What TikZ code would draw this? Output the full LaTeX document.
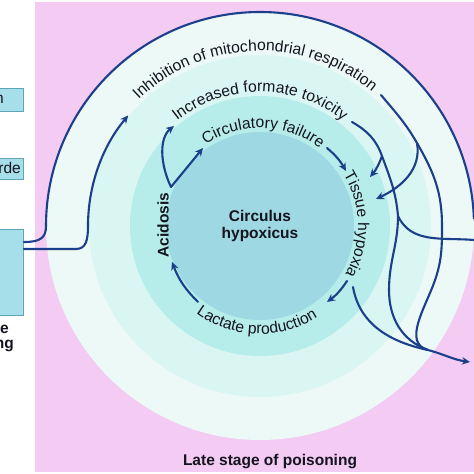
\documentclass[tikz,border=0pt]{standalone}
\usepackage{fontspec}
\setmainfont{Liberation Sans}
\usetikzlibrary{decorations.text,arrows.meta,calc}
\definecolor{pinkbg}{RGB}{243,203,243}
\definecolor{ringA}{RGB}{237,249,246}
\definecolor{ringB}{RGB}{218,246,242}
\definecolor{ringC}{RGB}{182,237,234}
\definecolor{ringD}{RGB}{157,216,227}
\definecolor{boxfill}{RGB}{166,222,234}
\definecolor{boxline}{RGB}{95,165,185}
\definecolor{navy}{RGB}{27,63,139}
\definecolor{ink}{RGB}{20,20,30}
\newcommand\arcfnt{\fontsize{15.7}{18}\selectfont}
\begin{document}
\begin{tikzpicture}[x=1pt,y=1pt,
  conn/.style={draw=navy, line width=2.1pt, line cap=round, line join=round},
  arr/.style={conn, -{Stealth[length=8pt,width=7.5pt]}},
  box/.style={draw=boxline, fill=boxfill, line width=0.8pt, inner sep=0pt, anchor=north east, minimum width=40pt},
  lbl/.style={text=ink, font=\fontsize{15.5}{17}\selectfont, inner sep=0pt},
  blbl/.style={text=ink, font=\fontsize{15.5}{17}\selectfont\bfseries, inner sep=0pt},
]
\useasboundingbox (0,0) rectangle (474,474);
\coordinate (C) at (260,248);
\fill[pinkbg] (35,2) rectangle (474,472);
\begin{scope}
\clip (35,2) rectangle (474,472);
\fill[ringA] (C) circle[radius=214pt];
\fill[ringB] (C) circle[radius=171pt];
\fill[ringC] (C) circle[radius=130pt];
\fill[ringD] (C) circle[radius=94pt];
\end{scope}

% left boxes
\node[box, minimum height=23pt] (b1) at (24,386) {};
\node[box, minimum height=21pt] (b2) at (24,316) {};
\node[box, minimum height=86pt] (b3) at (24,245) {};
\node[lbl, anchor=east] (t1) at (4,375) {n};
\node[lbl, anchor=east] (t2) at (21,306) {rde};
\node[blbl, anchor=base east] (e1) at (9,140) {e};
\node[blbl, anchor=base east] (e2) at (14,125) {ng};

% arc texts
\path[decorate, decoration={text along path, text align=center,
  text={|\color{ink}\arcfnt|Inhibition of mitochondrial respiration}}]
  (C) ++(152:175pt) arc[start angle=152, end angle=32, radius=175pt];
\path[decorate, decoration={text along path, text align=center,
  text={|\color{ink}\arcfnt|Increased formate toxicity}}]
  (C) ++(150:134pt) arc[start angle=150, end angle=30, radius=134pt];
\path[decorate, decoration={text along path, text align=center,
  text={|\color{ink}\arcfnt|Circulatory failure}}]
  (C) ++(148:98pt) arc[start angle=148, end angle=28, radius=98pt];
\path[decorate, decoration={text along path, text align=center,
  text={|\color{ink}\arcfnt|Tissue hypoxia}}]
  (C) ++(61:98pt) arc[start angle=61, end angle=-59, radius=98pt];
\path[decorate, decoration={text along path, text align=center,
  text={|\color{ink}\arcfnt|Lactate production}}]
  (C) ++(208:108pt) arc[start angle=208, end angle=328, radius=108pt];

\node[blbl, rotate=90] (acid) at (163,249) {Acidosis};
\node[blbl, align=center] (circ) at (260,248) {Circulus\\hypoxicus};
\node[blbl, anchor=base] (late) at (270,9) {Late stage of poisoning};

% left connectors
\coordinate (o1) at ($(b3.north east)+(0,-13)$);
\coordinate (o2) at ($(b3.north east)+(0,-20)$);
\draw[conn] (o1) .. controls (40,232) and (46,236) .. (46,248)
  arc[start angle=180, end angle=2, radius=214pt];
\draw[arr] (o2) -- (76,225) .. controls (86,225) and (88,234) .. (88,248)
  arc[start angle=180, end angle=140, radius=172pt];

% inner cycle
\coordinate (c1s) at (327,326); \coordinate (c1e) at (346,303);
\coordinate (c2s) at (347,193); \coordinate (c2e) at (327,172);
\coordinate (c3s) at (198,172); \coordinate (c3e) at (172,212);
\coordinate (vB) at (171,287); \coordinate (vC) at (203,326); \coordinate (vI) at (174,348);
\draw[arr] (c1s) to[bend left=10] (c1e);
\draw[arr] (c2s) to[bend left=10] (c2e);
\draw[arr] (c3s) to[bend left=12] (c3e);
\draw[arr] (vB) -- (vC);
\draw[arr] (vB) .. controls (160,310) and (159,336) .. (vI);

% right network
\coordinate (tA) at (381,379);
\coordinate (A1) at (417,331);
\coordinate (A2) at (442,248);
\coordinate (A3) at (434,191);
\coordinate (M) at (428,124);
\coordinate (pA) at (376,275);
\coordinate (tB) at (352,352);
\coordinate (B1) at (382,318);
\coordinate (pB) at (370,297);
\coordinate (B2) at (398,258);
\coordinate (Rt) at (474,234);
\coordinate (B3) at (389,184);
\coordinate (tH) at (353,187);
\coordinate (F) at (470,112);
\draw[conn] (tA) to[out=-50,in=120] (A1) to[out=-60,in=90] (A2)
  to[out=-90,in=70] (A3) to[out=-110,in=165] (M);
\draw[arr] (A1) to[out=-80,in=25] (pA);
\draw[conn] (tB) to[out=-30,in=110] (B1) to[out=-70,in=95] (B2)
  to[out=-90,in=90] (B3) to[out=-90,in=160] (M);
\draw[arr] (B1) to[out=-110,in=50] (pB);
\draw[conn] (B2) to[out=-65,in=175] (Rt);
\draw[conn] (tH) to[out=-80,in=168] (M);
\draw[arr] (M) to[out=-15,in=172] (F);
\end{tikzpicture}
\end{document}
